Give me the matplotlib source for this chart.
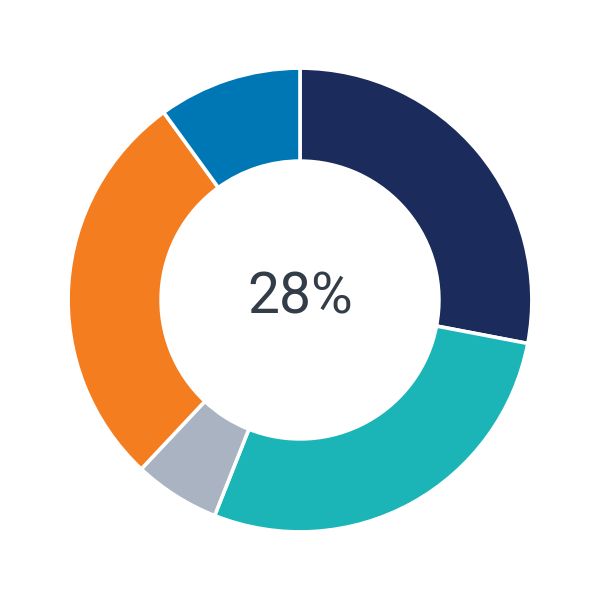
import matplotlib
matplotlib.use('Agg')
import matplotlib.pyplot as plt

labels = ['Navy', 'Teal', 'Gray', 'Orange', 'Blue']
values = [28, 28, 6, 28, 10]
colors = ['#1b2b5b', '#1bb5b7', '#a9b3c1', '#f47d20', '#0077b5']
center_label = '28%'

fig = plt.figure(figsize=(6, 6), dpi=100)
ax = fig.add_axes([0, 0, 1, 1])
ax.pie(values, colors=colors, startangle=90, counterclock=False,
       radius=0.773,
       wedgeprops={'width': 0.31, 'edgecolor': 'white', 'linewidth': 2.6})
ax.text(0, 0.007, center_label, ha='center', va='center', fontsize=41,
        family=['Roboto', 'DejaVu Sans'], fontweight='normal', color='#333d48')
ax.set_xlim(-1, 1)
ax.set_ylim(-1, 1)
ax.set_aspect('equal')
ax.axis('off')

fig.savefig('out.png', dpi=100, facecolor='white')
